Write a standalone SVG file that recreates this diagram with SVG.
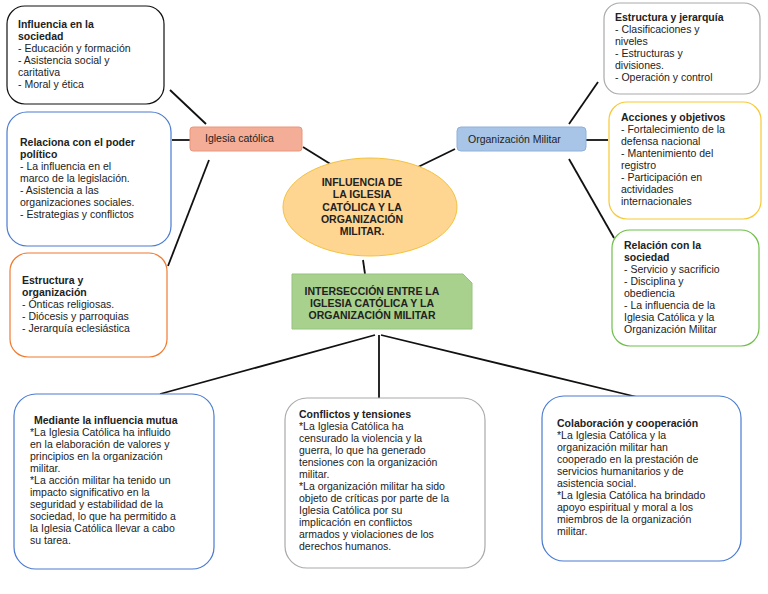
<svg xmlns="http://www.w3.org/2000/svg" width="768" height="594" viewBox="0 0 768 594">
<style>
text{font-family:"Liberation Sans",Arial,sans-serif;font-size:10.5px;fill:#222}
.b{font-weight:bold}
.box{fill:#fff;stroke-width:1.2}
.c{stroke:#111;stroke-width:1.8;fill:none}
</style>
<rect width="768" height="594" fill="#fff"/>
<g id="connectors">
<line class="c" x1="170" y1="90" x2="206" y2="124"/>
<line class="c" x1="172" y1="140" x2="190" y2="140"/>
<line class="c" x1="209" y1="160" x2="168" y2="266"/>
<line class="c" x1="303" y1="147" x2="332" y2="165"/>
<line class="c" x1="418" y1="167" x2="455" y2="149"/>
<line class="c" x1="569" y1="124" x2="598" y2="82"/>
<line class="c" x1="586" y1="140" x2="608" y2="140"/>
<line class="c" x1="569" y1="159" x2="614" y2="238"/>
<line class="c" x1="363" y1="260" x2="365" y2="274"/>
<line class="c" x1="375" y1="335" x2="160" y2="394"/>
<line class="c" x1="379" y1="335" x2="379" y2="398"/>
<line class="c" x1="381" y1="335" x2="637" y2="397"/>
</g>
<g id="n1"><rect class="box" x="7" y="6" width="157" height="98" rx="18" stroke="#111"/>
<text x="18" y="28"><tspan class="b">Influencia en la</tspan><tspan x="18" dy="12" class="b">sociedad</tspan><tspan x="18" dy="12">- Educación y formación</tspan><tspan x="18" dy="12">- Asistencia social y</tspan><tspan x="18" dy="12">caritativa</tspan><tspan x="18" dy="12">- Moral y ética</tspan></text></g>
<g id="n2"><rect class="box" x="7" y="112" width="164" height="134" rx="20" stroke="#4a7bd0"/>
<text x="20" y="146"><tspan class="b">Relaciona con el poder</tspan><tspan x="20" dy="12" class="b">político</tspan><tspan x="20" dy="12">- La influencia en el</tspan><tspan x="20" dy="12">marco de la legislación.</tspan><tspan x="20" dy="12">- Asistencia a las</tspan><tspan x="20" dy="12">organizaciones sociales.</tspan><tspan x="20" dy="12">- Estrategias y conflictos</tspan></text></g>
<g id="n3"><rect class="box" x="10" y="253" width="157" height="104" rx="18" stroke="#f07a30"/>
<text x="22" y="284"><tspan class="b">Estructura y</tspan><tspan x="22" dy="12" class="b">organización</tspan><tspan x="22" dy="12">- Ónticas religiosas.</tspan><tspan x="22" dy="12">- Diócesis y parroquias</tspan><tspan x="22" dy="12">- Jerarquía eclesiástica</tspan></text></g>
<g id="iglesia"><rect x="190" y="127" width="112" height="24" rx="3" fill="#f4ae97" stroke="#e9967a"/>
<text x="205" y="142">Iglesia católica</text></g>
<g id="centro"><ellipse cx="370" cy="207" rx="87" ry="49" fill="#fed692" stroke="#f3c23b"/>
<text class="b" text-anchor="middle" x="362" y="186"><tspan>INFLUENCIA DE</tspan><tspan x="362" dy="12.3">LA IGLESIA</tspan><tspan x="362" dy="12.3">CATÓLICA Y LA</tspan><tspan x="362" dy="12.3">ORGANIZACIÓN</tspan><tspan x="362" dy="12.3">MILITAR.</tspan></text></g>
<g id="militar"><rect x="457" y="127" width="129" height="24" rx="4" fill="#a8c5e8" stroke="#8fb0db"/>
<text x="468" y="143">Organización Militar</text></g>
<g id="m1"><rect class="box" x="604" y="3" width="156" height="91" rx="16" stroke="#aaa"/>
<text x="615" y="21"><tspan class="b">Estructura y jerarquía</tspan><tspan x="615" dy="12">- Clasificaciones y</tspan><tspan x="615" dy="12">niveles</tspan><tspan x="615" dy="12">- Estructuras y</tspan><tspan x="615" dy="12">divisiones.</tspan><tspan x="615" dy="12">- Operación y control</tspan></text></g>
<g id="m2"><rect class="box" x="609" y="102" width="152" height="117" rx="18" stroke="#f7c933"/>
<text x="621" y="121"><tspan class="b">Acciones y objetivos</tspan><tspan x="621" dy="12">- Fortalecimiento de la</tspan><tspan x="621" dy="12">defensa nacional</tspan><tspan x="621" dy="12">- Mantenimiento del</tspan><tspan x="621" dy="12">registro</tspan><tspan x="621" dy="12">- Participación en</tspan><tspan x="621" dy="12">actividades</tspan><tspan x="621" dy="12">internacionales</tspan></text></g>
<g id="m3"><rect class="box" x="612" y="230" width="147" height="116" rx="18" stroke="#6fbf4a"/>
<text x="624" y="249"><tspan class="b">Relación con la</tspan><tspan x="624" dy="12" class="b">sociedad</tspan><tspan x="624" dy="12">- Servicio y sacrificio</tspan><tspan x="624" dy="12">- Disciplina y</tspan><tspan x="624" dy="12">obediencia</tspan><tspan x="624" dy="12">- La influencia de la</tspan><tspan x="624" dy="12">Iglesia Católica y la</tspan><tspan x="624" dy="12">Organización Militar</tspan></text></g>
<g id="inter"><path d="M292 274H463L472 283V329H292Z" fill="#a9d18e" stroke="#93c47d"/>
<text class="b" text-anchor="middle" x="372" y="295"><tspan>INTERSECCIÓN ENTRE LA</tspan><tspan x="372" dy="12">IGLESIA CATÓLICA Y LA</tspan><tspan x="372" dy="12">ORGANIZACIÓN MILITAR</tspan></text></g>
<g id="b1"><rect class="box" x="14" y="394" width="200" height="175" rx="22" stroke="#4a7bd0"/>
<text x="30" y="424"><tspan x="34" class="b">Mediante la influencia mutua</tspan><tspan x="30" dy="12">*La Iglesia Católica ha influido</tspan><tspan x="30" dy="12">en la elaboración de valores y</tspan><tspan x="30" dy="12">principios en la organización</tspan><tspan x="30" dy="12">militar.</tspan><tspan x="30" dy="12">*La acción militar ha tenido un</tspan><tspan x="30" dy="12">impacto significativo en la</tspan><tspan x="30" dy="12">seguridad y estabilidad de la</tspan><tspan x="30" dy="12">sociedad, lo que ha permitido a</tspan><tspan x="30" dy="12">la Iglesia Católica llevar a cabo</tspan><tspan x="30" dy="12">su tarea.</tspan></text></g>
<g id="b2"><rect class="box" x="285" y="398" width="200" height="170" rx="22" stroke="#aaa"/>
<text x="299" y="418"><tspan class="b">Conflictos y tensiones</tspan><tspan x="299" dy="12">*La Iglesia Católica ha</tspan><tspan x="299" dy="12">censurado la violencia y la</tspan><tspan x="299" dy="12">guerra, lo que ha generado</tspan><tspan x="299" dy="12">tensiones con la organización</tspan><tspan x="299" dy="12">militar.</tspan><tspan x="299" dy="12">*La organización militar ha sido</tspan><tspan x="299" dy="12">objeto de críticas por parte de la</tspan><tspan x="299" dy="12">Iglesia Católica por su</tspan><tspan x="299" dy="12">implicación en conflictos</tspan><tspan x="299" dy="12">armados y violaciones de los</tspan><tspan x="299" dy="12">derechos humanos.</tspan></text></g>
<g id="b3"><rect class="box" x="542" y="396" width="199" height="165" rx="22" stroke="#4a7bd0"/>
<text x="557" y="427"><tspan class="b">Colaboración y cooperación</tspan><tspan x="557" dy="12">*La Iglesia Católica y la</tspan><tspan x="557" dy="12">organización militar han</tspan><tspan x="557" dy="12">cooperado en la prestación de</tspan><tspan x="557" dy="12">servicios humanitarios y de</tspan><tspan x="557" dy="12">asistencia social.</tspan><tspan x="557" dy="12">*La Iglesia Católica ha brindado</tspan><tspan x="557" dy="12">apoyo espiritual y moral a los</tspan><tspan x="557" dy="12">miembros de la organización</tspan><tspan x="557" dy="12">militar.</tspan></text></g>
</svg>
